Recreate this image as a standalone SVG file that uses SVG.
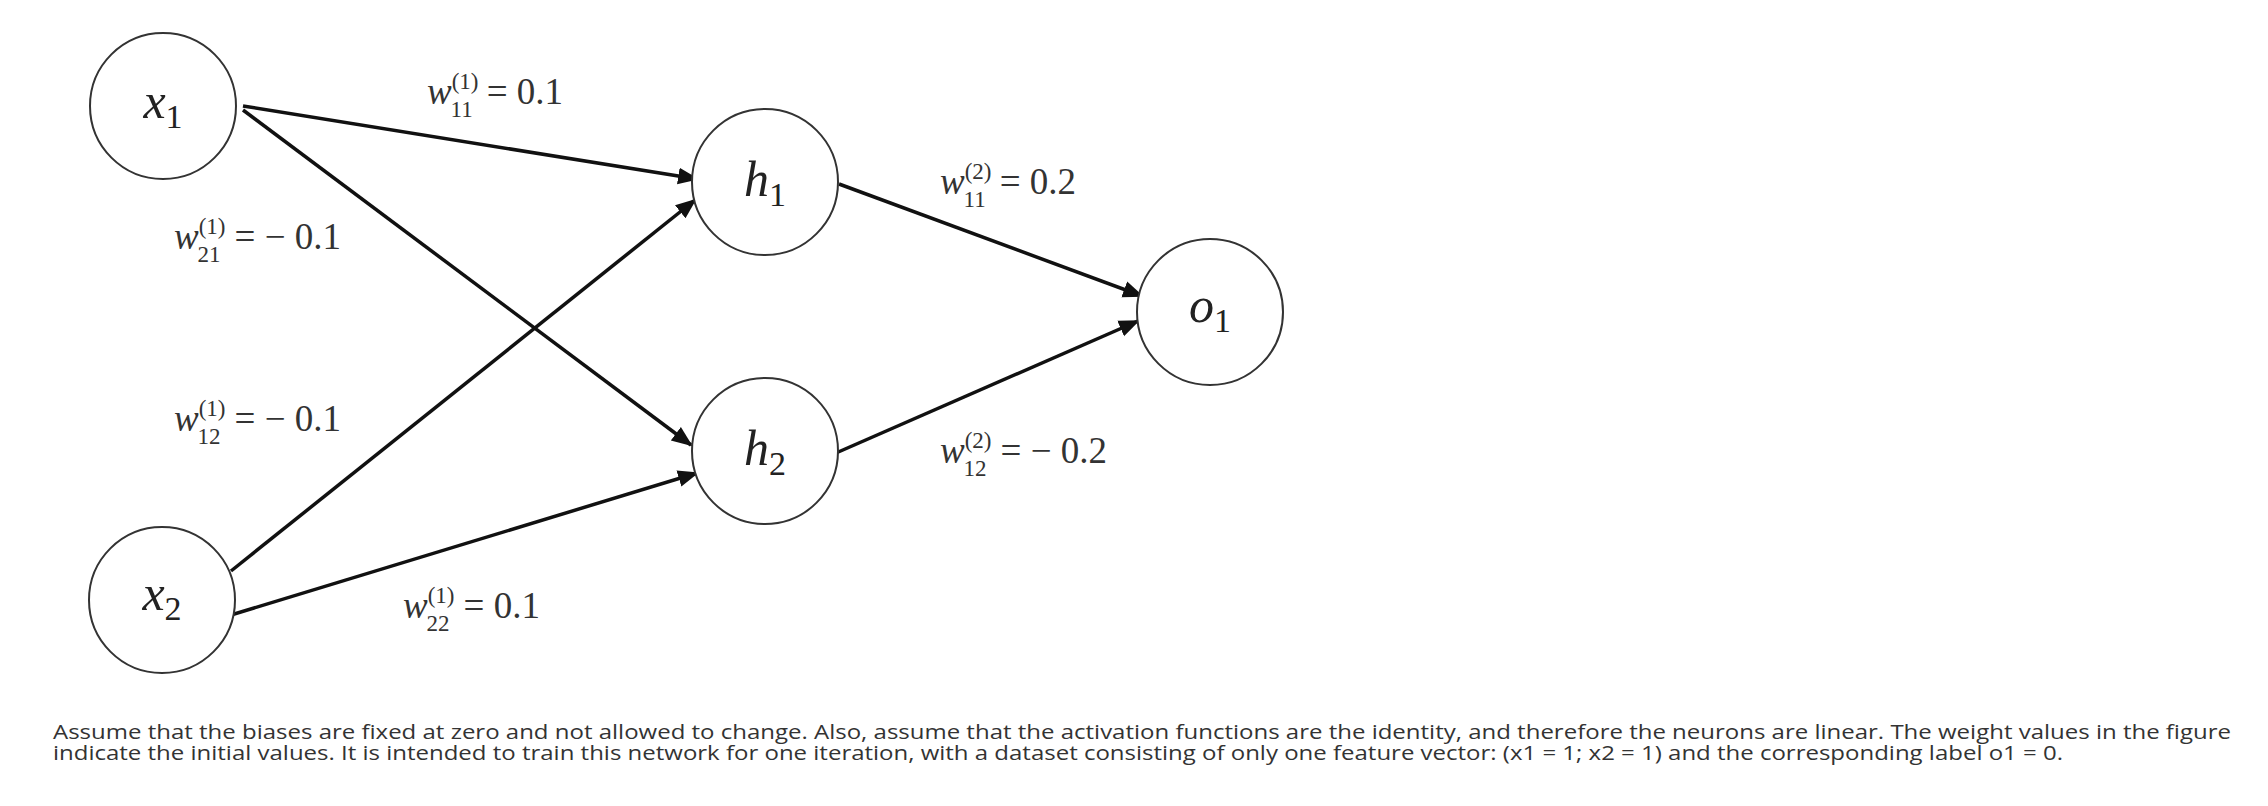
<svg xmlns="http://www.w3.org/2000/svg" width="2268" height="806" viewBox="0 0 2268 806">
<style>
.n{fill:#fff;stroke:#333;stroke-width:2}
.nl{font-family:"Liberation Serif",serif;font-style:italic;font-size:50px;fill:#222;text-anchor:middle}
.nl tspan.s{font-style:normal;font-size:34px}
.e{stroke:#111;stroke-width:3.5;fill:none}
.w{font-family:"Liberation Serif",serif;font-size:37px;fill:#333}
.w .i{font-style:italic}
.w .sm{font-size:23px}
.cap{font-family:"Open Sans",sans-serif;font-size:20px;fill:#333}
</style>
<defs><marker id="a" viewBox="0 0 10 10" refX="9" refY="5" markerWidth="6" markerHeight="6" markerUnits="strokeWidth" orient="auto"><path d="M0,1 L10,5 L0,9 Z" fill="#111"/></marker></defs>
<rect width="2268" height="806" fill="#fff"/>
<g id="edges">
<line class="e" x1="243" y1="106" x2="697" y2="179" marker-end="url(#a)"/>
<line class="e" x1="243" y1="110" x2="691" y2="445" marker-end="url(#a)"/>
<line class="e" x1="231" y1="571" x2="695" y2="200" marker-end="url(#a)"/>
<line class="e" x1="231" y1="615" x2="697" y2="473" marker-end="url(#a)"/>
<line class="e" x1="839" y1="184" x2="1142" y2="296" marker-end="url(#a)"/>
<line class="e" x1="836" y1="453" x2="1138" y2="321" marker-end="url(#a)"/>
</g>
<g id="x1"><circle class="n" cx="163" cy="106" r="73"/><text class="nl" x="163" y="118">x<tspan class="s" dy="10">1</tspan></text></g>
<g id="x2"><circle class="n" cx="162" cy="600" r="73"/><text class="nl" x="162" y="610">x<tspan class="s" dy="10">2</tspan></text></g>
<g id="h1"><circle class="n" cx="765" cy="182" r="73"/><text class="nl" x="765" y="196">h<tspan class="s" dy="10">1</tspan></text></g>
<g id="h2"><circle class="n" cx="765" cy="451" r="73"/><text class="nl" x="765" y="465">h<tspan class="s" dy="10">2</tspan></text></g>
<g id="o1"><circle class="n" cx="1210" cy="312" r="73"/><text class="nl" x="1210" y="322">o<tspan class="s" dy="10">1</tspan></text></g>
<g id="labels">
<text class="w" x="427" y="104"><tspan class="i">w</tspan><tspan class="sm" dy="-15">(1)</tspan><tspan class="sm" dx="-28" dy="28">11</tspan><tspan dx="14" dy="-13">= 0.1</tspan></text>
<text class="w" x="174" y="249"><tspan class="i">w</tspan><tspan class="sm" dy="-15">(1)</tspan><tspan class="sm" dx="-28" dy="28">21</tspan><tspan dx="14" dy="-13">= − 0.1</tspan></text>
<text class="w" x="174" y="431"><tspan class="i">w</tspan><tspan class="sm" dy="-15">(1)</tspan><tspan class="sm" dx="-28" dy="28">12</tspan><tspan dx="14" dy="-13">= − 0.1</tspan></text>
<text class="w" x="403" y="618"><tspan class="i">w</tspan><tspan class="sm" dy="-15">(1)</tspan><tspan class="sm" dx="-28" dy="28">22</tspan><tspan dx="14" dy="-13">= 0.1</tspan></text>
<text class="w" x="940" y="194"><tspan class="i">w</tspan><tspan class="sm" dy="-15">(2)</tspan><tspan class="sm" dx="-28" dy="28">11</tspan><tspan dx="14" dy="-13">= 0.2</tspan></text>
<text class="w" x="940" y="463"><tspan class="i">w</tspan><tspan class="sm" dy="-15">(2)</tspan><tspan class="sm" dx="-28" dy="28">12</tspan><tspan dx="14" dy="-13">= − 0.2</tspan></text>
</g>
<text class="cap" x="53" y="739" textLength="2178" lengthAdjust="spacingAndGlyphs">Assume that the biases are fixed at zero and not allowed to change. Also, assume that the activation functions are the identity, and therefore the neurons are linear. The weight values in the figure</text>
<text class="cap" x="53" y="760" textLength="2010" lengthAdjust="spacingAndGlyphs">indicate the initial values. It is intended to train this network for one iteration, with a dataset consisting of only one feature vector: (x1 = 1; x2 = 1) and the corresponding label o1 = 0.</text>
</svg>
